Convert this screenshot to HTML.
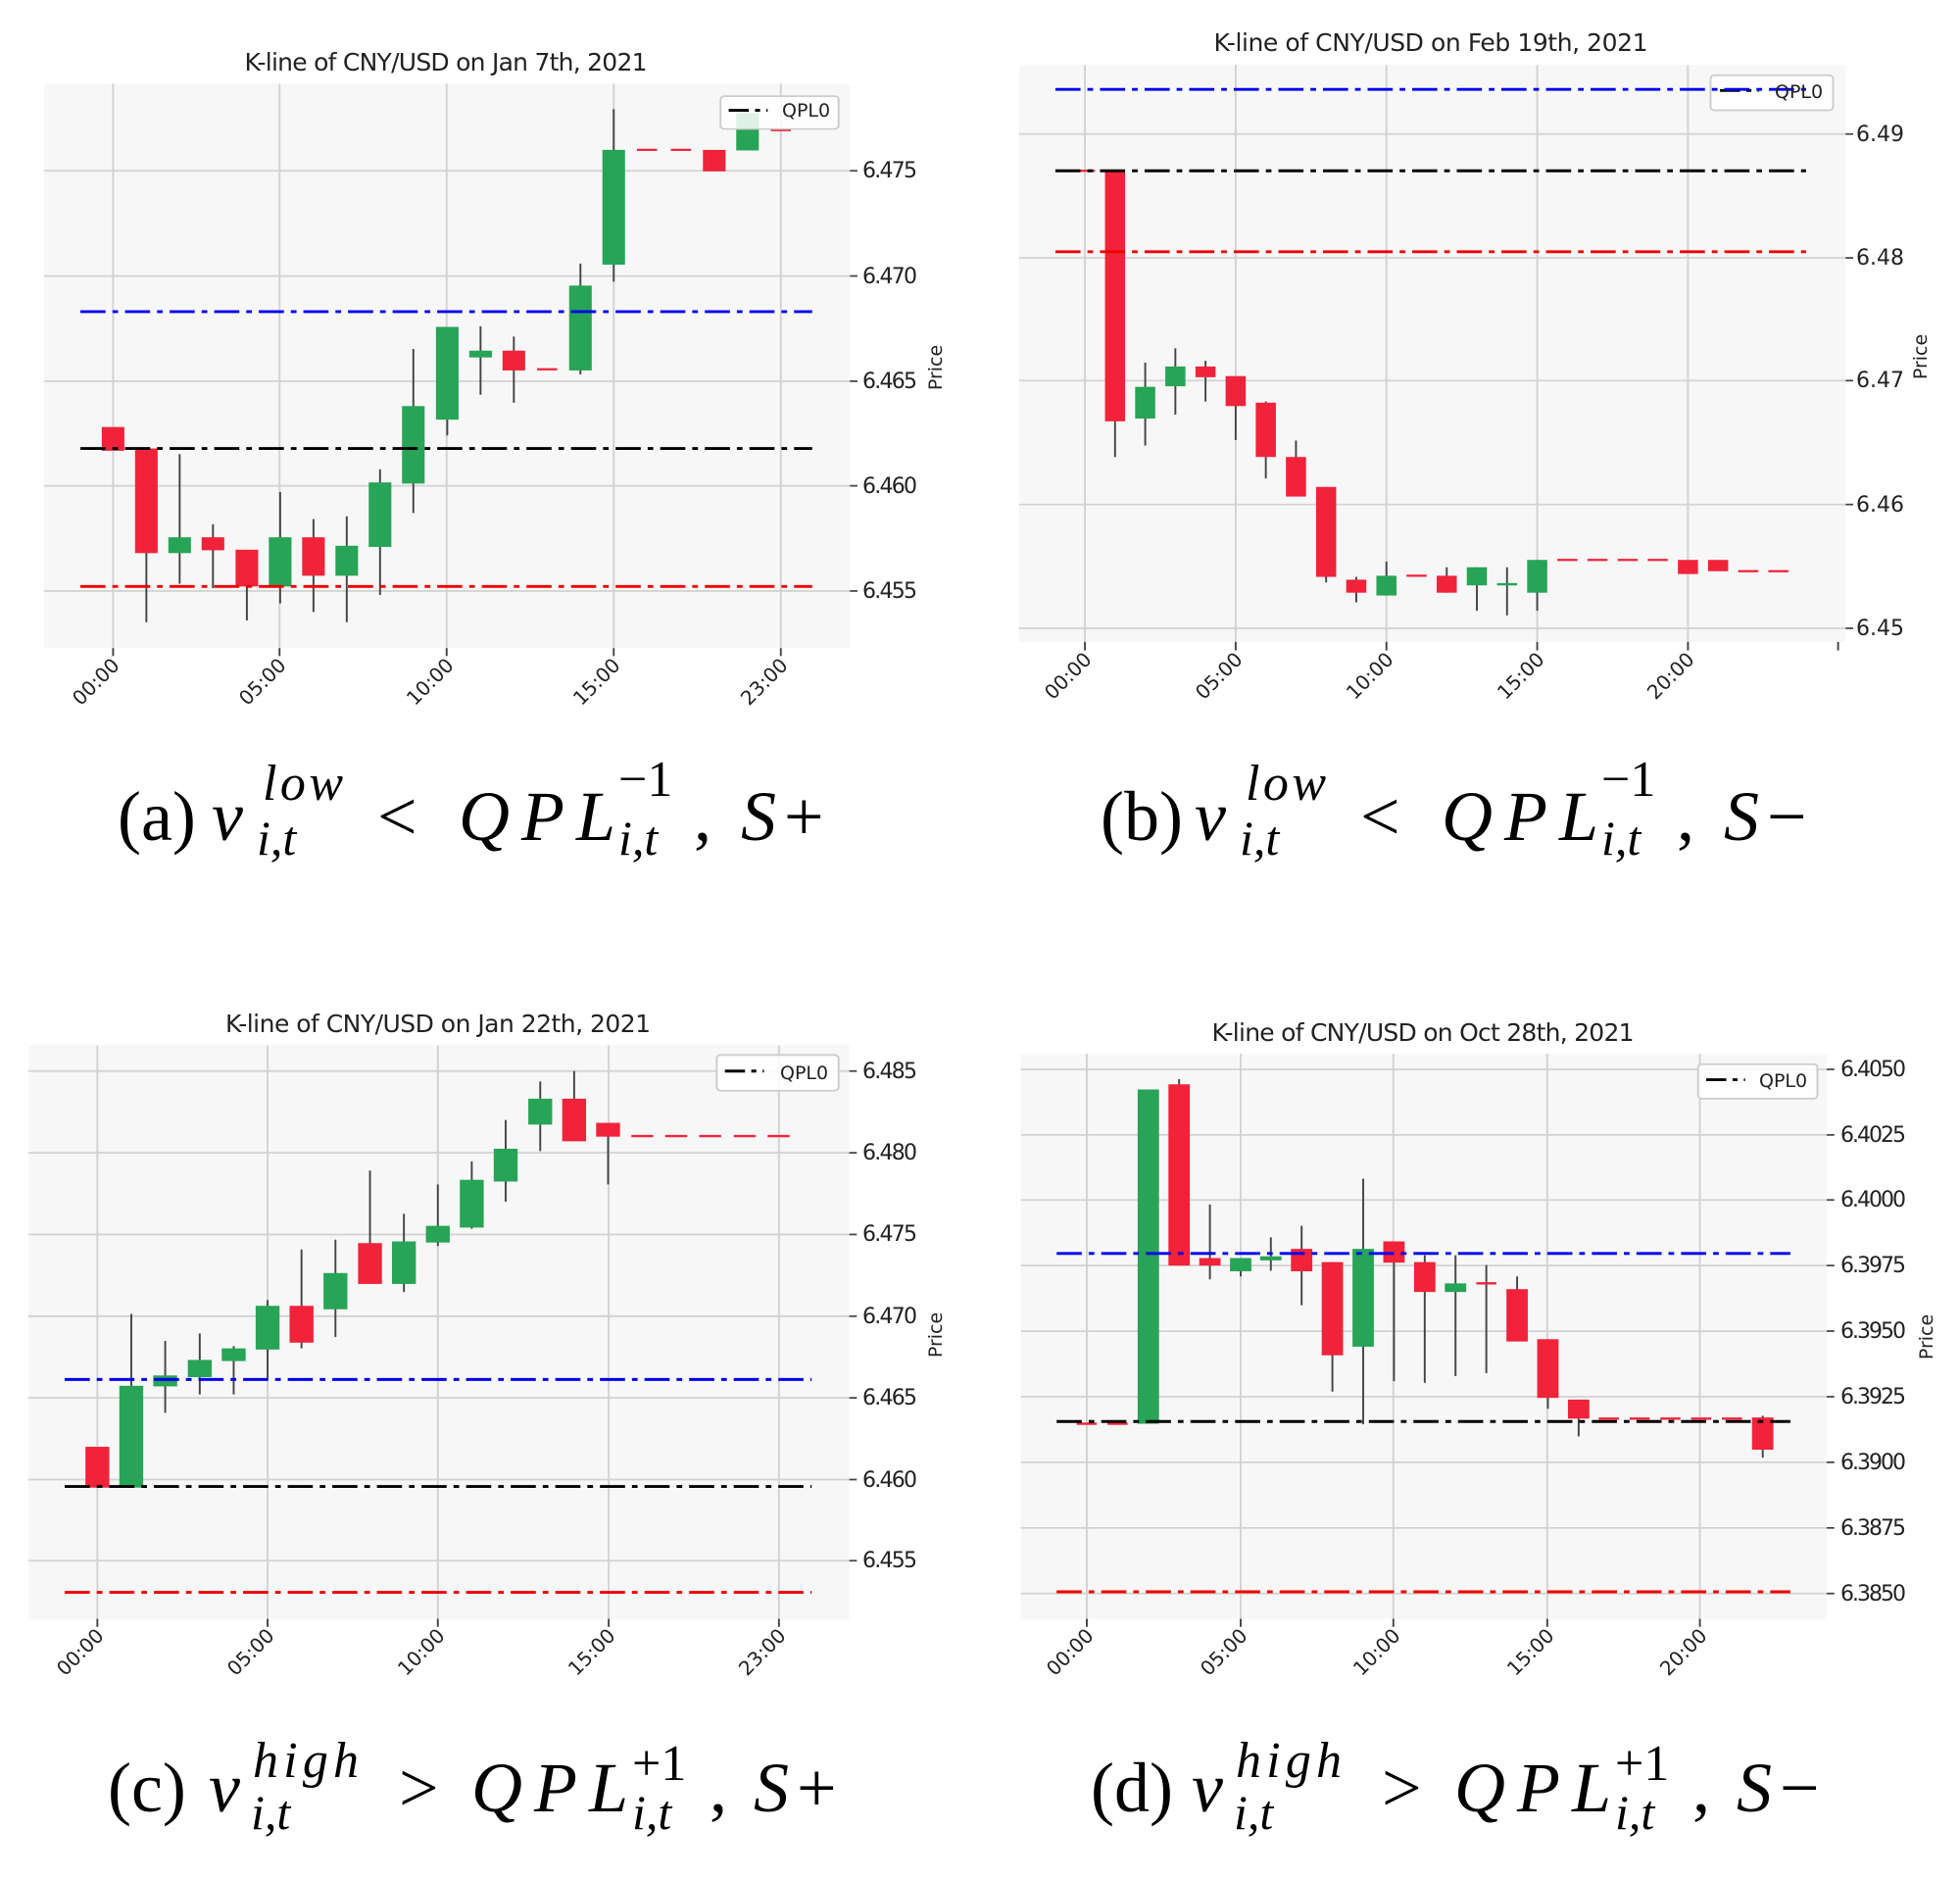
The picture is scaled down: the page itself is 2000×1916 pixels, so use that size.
<!DOCTYPE html>
<html><head><meta charset="utf-8"><style>html,body{margin:0;padding:0;background:#fff}svg{display:block}</style></head><body>
<svg xmlns="http://www.w3.org/2000/svg" width="2000" height="1916" viewBox="0 0 2000 1916">
<defs>
<style>
.bg{fill:#f7f7f7}
.g{stroke:#d2d2d2;stroke-width:3}
.tk{stroke:#444;stroke-width:3}
.w{stroke:#444;stroke-width:3}
.R{fill:#f0233a}
.G{fill:#27a456}
.rd{stroke:#f0233a;stroke-width:4}
.gd{stroke:#27a456;stroke-width:4}
.dd{stroke-width:5;stroke-dasharray:40 11 9 11;fill:none}
.lg{fill:#fff;fill-opacity:0.85;stroke:#ccc;stroke-width:3}
.t{font-family:"DejaVu Sans","Liberation Sans",sans-serif;fill:#222}
.c{font-family:"Liberation Serif",serif;fill:#000}
.i{font-style:italic}
</style>
</defs>

<!-- ============ PANEL A ============ -->
<g transform="translate(0,0) scale(0.641,0.577)">
<rect class="bg" x="70" y="148" width="1283" height="998"/>
<g class="g">
<line x1="70" x2="1353" y1="302" y2="302"/><line x1="70" x2="1353" y1="488" y2="488"/><line x1="70" x2="1353" y1="674" y2="674"/><line x1="70" x2="1353" y1="859" y2="859"/><line x1="70" x2="1353" y1="1045" y2="1045"/>
<line y1="148" y2="1146" x1="180" x2="180"/><line y1="148" y2="1146" x1="445" x2="445"/><line y1="148" y2="1146" x1="711" x2="711"/><line y1="148" y2="1146" x1="977" x2="977"/><line y1="148" y2="1146" x1="1243" x2="1243"/>
</g>
<g class="tk">
<line x1="1353" x2="1365" y1="302" y2="302"/><line x1="1353" x2="1365" y1="488" y2="488"/><line x1="1353" x2="1365" y1="674" y2="674"/><line x1="1353" x2="1365" y1="859" y2="859"/><line x1="1353" x2="1365" y1="1045" y2="1045"/>
<line y1="1146" y2="1160" x1="180" x2="180"/><line y1="1146" y2="1160" x1="445" x2="445"/><line y1="1146" y2="1160" x1="711" x2="711"/><line y1="1146" y2="1160" x1="977" x2="977"/><line y1="1146" y2="1160" x1="1243" x2="1243"/>
</g>
<g class="w">
<line x1="233" x2="233" y1="793" y2="1100"/><line x1="286" x2="286" y1="803" y2="1032"/><line x1="339" x2="339" y1="927" y2="1040"/><line x1="393" x2="393" y1="972" y2="1097"/><line x1="446" x2="446" y1="870" y2="1067"/><line x1="499" x2="499" y1="918" y2="1082"/><line x1="552" x2="552" y1="913" y2="1100"/><line x1="605" x2="605" y1="830" y2="1052"/><line x1="658" x2="658" y1="617" y2="907"/><line x1="712" x2="712" y1="578" y2="770"/><line x1="765" x2="765" y1="577" y2="698"/><line x1="818" x2="818" y1="595" y2="712"/><line x1="924" x2="924" y1="466" y2="662"/><line x1="977" x2="977" y1="193" y2="498"/>
</g>
<rect class="R" x="162" y="755" width="36" height="42"/>
<rect class="R" x="215" y="793" width="36" height="185"/>
<rect class="G" x="268" y="950" width="36" height="28"/>
<rect class="R" x="321" y="950" width="36" height="23"/>
<rect class="R" x="375" y="972" width="36" height="65"/>
<rect class="G" x="428" y="950" width="36" height="87"/>
<rect class="R" x="481" y="950" width="36" height="68"/>
<rect class="G" x="534" y="965" width="36" height="53"/>
<rect class="G" x="587" y="853" width="36" height="114"/>
<rect class="G" x="640" y="718" width="36" height="137"/>
<rect class="G" x="694" y="578" width="36" height="164"/>
<rect class="G" x="747" y="620" width="36" height="12"/>
<rect class="R" x="800" y="620" width="36" height="35"/>
<line class="rd" x1="855" x2="887" y1="653" y2="653"/>
<rect class="G" x="906" y="505" width="36" height="150"/>
<rect class="G" x="959" y="265" width="36" height="203"/>
<line class="rd" x1="1014" x2="1046" y1="265" y2="265"/>
<line class="rd" x1="1068" x2="1100" y1="265" y2="265"/>
<rect class="R" x="1119" y="265" width="36" height="38"/>
<rect class="G" x="1172" y="200" width="36" height="66"/>
<line class="rd" x1="1227" x2="1259" y1="230" y2="230"/>
<line class="dd" stroke="#0000ee" x1="128" x2="1293" y1="551" y2="551"/>
<line class="dd" stroke="#000" x1="128" x2="1293" y1="793" y2="793"/>
<line class="dd" stroke="#ee0000" x1="128" x2="1293" y1="1037" y2="1037"/>
<rect class="lg" x="1147" y="170" width="188" height="58" rx="6"/>
<line class="dd" stroke="#000" x1="1160" x2="1222" y1="195" y2="195" style="stroke-dasharray:32 10 8 10"/>
</g>
<text class="t" x="455" y="72" font-size="25" text-anchor="middle" textLength="411">K-line of CNY/USD on Jan 7th, 2021</text>
<text class="t" x="798" y="119" font-size="19">QPL0</text>
<g class="t" font-size="22">
<text x="880" y="181" textLength="56">6.475</text><text x="880" y="289" textLength="56">6.470</text><text x="880" y="396" textLength="56">6.465</text><text x="880" y="503" textLength="56">6.460</text><text x="880" y="610" textLength="56">6.455</text>
</g>
<text class="t" font-size="19" transform="translate(961,375) rotate(-90)" text-anchor="middle">Price</text>
<g class="t" font-size="20" text-anchor="end">
<text transform="translate(123,680) rotate(-45)">00:00</text><text transform="translate(293,680) rotate(-45)">05:00</text><text transform="translate(464,680) rotate(-45)">10:00</text><text transform="translate(634,680) rotate(-45)">15:00</text><text transform="translate(805,680) rotate(-45)">23:00</text>
</g>

<!-- ============ PANEL B ============ -->
<g transform="translate(1000,0) scale(0.641,0.577)">
<rect class="bg" x="62" y="115" width="1316" height="1020"/>
<g class="g">
<line x1="62" x2="1378" y1="237" y2="237"/><line x1="62" x2="1378" y1="456" y2="456"/><line x1="62" x2="1378" y1="673" y2="673"/><line x1="62" x2="1378" y1="892" y2="892"/><line x1="62" x2="1378" y1="1111" y2="1111"/>
<line y1="115" y2="1135" x1="167" x2="167"/><line y1="115" y2="1135" x1="407" x2="407"/><line y1="115" y2="1135" x1="647" x2="647"/><line y1="115" y2="1135" x1="887" x2="887"/><line y1="115" y2="1135" x1="1127" x2="1127"/>
</g>
<g class="tk">
<line x1="1378" x2="1390" y1="237" y2="237"/><line x1="1378" x2="1390" y1="456" y2="456"/><line x1="1378" x2="1390" y1="673" y2="673"/><line x1="1378" x2="1390" y1="892" y2="892"/><line x1="1378" x2="1390" y1="1111" y2="1111"/>
<line y1="1135" y2="1150" x1="167" x2="167"/><line y1="1135" y2="1150" x1="407" x2="407"/><line y1="1135" y2="1150" x1="647" x2="647"/><line y1="1135" y2="1150" x1="887" x2="887"/><line y1="1135" y2="1150" x1="1127" x2="1127"/><line y1="1135" y2="1150" x1="1366" x2="1366"/>
</g>
<g class="w">
<line x1="215" x2="215" y1="302" y2="808"/><line x1="263" x2="263" y1="641" y2="788"/><line x1="311" x2="311" y1="616" y2="733"/><line x1="359" x2="359" y1="638" y2="710"/><line x1="407" x2="407" y1="665" y2="778"/><line x1="455" x2="455" y1="710" y2="846"/><line x1="503" x2="503" y1="779" y2="878"/><line x1="551" x2="551" y1="861" y2="1030"/><line x1="599" x2="599" y1="1020" y2="1065"/><line x1="647" x2="647" y1="993" y2="1053"/><line x1="743" x2="743" y1="1003" y2="1048"/><line x1="791" x2="791" y1="1003" y2="1080"/><line x1="839" x2="839" y1="1003" y2="1088"/><line x1="887" x2="887" y1="990" y2="1080"/>
</g>
<line class="rd" x1="151" x2="183" y1="302" y2="302"/>
<rect class="R" x="199" y="302" width="32" height="443"/>
<rect class="G" x="247" y="684" width="32" height="56"/>
<rect class="G" x="295" y="648" width="32" height="35"/>
<rect class="R" x="343" y="648" width="32" height="19"/>
<rect class="R" x="391" y="665" width="32" height="53"/>
<rect class="R" x="439" y="712" width="32" height="96"/>
<rect class="R" x="487" y="808" width="32" height="70"/>
<rect class="R" x="535" y="861" width="32" height="159"/>
<rect class="R" x="583" y="1025" width="32" height="23"/>
<rect class="G" x="631" y="1018" width="32" height="35"/>
<line class="rd" x1="679" x2="711" y1="1018" y2="1018"/>
<rect class="R" x="727" y="1018" width="32" height="30"/>
<rect class="G" x="775" y="1003" width="32" height="32"/>
<line class="gd" x1="823" x2="855" y1="1033" y2="1033"/>
<rect class="G" x="871" y="990" width="32" height="58"/>
<line class="rd" x1="919" x2="951" y1="990" y2="990"/><line class="rd" x1="967" x2="999" y1="990" y2="990"/><line class="rd" x1="1015" x2="1047" y1="990" y2="990"/><line class="rd" x1="1063" x2="1095" y1="990" y2="990"/>
<rect class="R" x="1111" y="990" width="32" height="25"/>
<rect class="R" x="1159" y="990" width="32" height="20"/>
<line class="rd" x1="1207" x2="1239" y1="1010" y2="1010"/><line class="rd" x1="1255" x2="1287" y1="1010" y2="1010"/>
<line class="dd" stroke="#000" x1="120" x2="1315" y1="302" y2="302"/>
<line class="dd" stroke="#ee0000" x1="120" x2="1315" y1="445" y2="445"/>
<rect class="lg" x="1163" y="133" width="195" height="62" rx="6"/>
<line class="dd" stroke="#000" x1="1178" x2="1240" y1="160" y2="160" style="stroke-dasharray:32 10 8 10"/>
<line class="dd" stroke="#0000ee" x1="120" x2="1315" y1="158" y2="158"/>
</g>
<text class="t" x="1460" y="52" font-size="25" text-anchor="middle" textLength="443">K-line of CNY/USD on Feb 19th, 2021</text>
<text class="t" x="1811" y="100" font-size="19">QPL0</text>
<g class="t" font-size="22">
<text x="1894" y="144">6.49</text><text x="1894" y="270">6.48</text><text x="1894" y="395">6.47</text><text x="1894" y="522">6.46</text><text x="1894" y="648">6.45</text>
</g>
<text class="t" font-size="19" transform="translate(1966,364) rotate(-90)" text-anchor="middle">Price</text>
<g class="t" font-size="20" text-anchor="end">
<text transform="translate(1115,674) rotate(-45)">00:00</text><text transform="translate(1269,674) rotate(-45)">05:00</text><text transform="translate(1423,674) rotate(-45)">10:00</text><text transform="translate(1577,674) rotate(-45)">15:00</text><text transform="translate(1730,674) rotate(-45)">20:00</text>
</g>

<!-- ============ PANEL C ============ -->
<g transform="translate(0,1000) scale(0.641,0.587)">
<rect class="bg" x="45" y="113" width="1307" height="997"/>
<g class="g">
<line x1="45" x2="1352" y1="158" y2="158"/><line x1="45" x2="1352" y1="300" y2="300"/><line x1="45" x2="1352" y1="442" y2="442"/><line x1="45" x2="1352" y1="584" y2="584"/><line x1="45" x2="1352" y1="726" y2="726"/><line x1="45" x2="1352" y1="868" y2="868"/><line x1="45" x2="1352" y1="1009" y2="1009"/>
<line y1="113" y2="1110" x1="155" x2="155"/><line y1="113" y2="1110" x1="426" x2="426"/><line y1="113" y2="1110" x1="697" x2="697"/><line y1="113" y2="1110" x1="969" x2="969"/><line y1="113" y2="1110" x1="1240" x2="1240"/>
</g>
<g class="tk">
<line x1="1352" x2="1364" y1="158" y2="158"/><line x1="1352" x2="1364" y1="300" y2="300"/><line x1="1352" x2="1364" y1="442" y2="442"/><line x1="1352" x2="1364" y1="584" y2="584"/><line x1="1352" x2="1364" y1="726" y2="726"/><line x1="1352" x2="1364" y1="868" y2="868"/><line x1="1352" x2="1364" y1="1009" y2="1009"/>
<line y1="1110" y2="1124" x1="155" x2="155"/><line y1="1110" y2="1124" x1="426" x2="426"/><line y1="1110" y2="1124" x1="697" x2="697"/><line y1="1110" y2="1124" x1="969" x2="969"/><line y1="1110" y2="1124" x1="1240" x2="1240"/>
</g>
<g class="w">
<line x1="209" x2="209" y1="580" y2="882"/><line x1="263" x2="263" y1="627" y2="752"/><line x1="318" x2="318" y1="614" y2="720"/><line x1="372" x2="372" y1="636" y2="720"/><line x1="426" x2="426" y1="556" y2="692"/><line x1="480" x2="480" y1="468" y2="640"/><line x1="534" x2="534" y1="451" y2="620"/><line x1="589" x2="589" y1="331" y2="528"/><line x1="643" x2="643" y1="406" y2="542"/><line x1="697" x2="697" y1="355" y2="462"/><line x1="751" x2="751" y1="315" y2="432"/><line x1="805" x2="805" y1="243" y2="385"/><line x1="860" x2="860" y1="176" y2="297"/><line x1="914" x2="914" y1="158" y2="280"/><line x1="968" x2="968" y1="248" y2="355"/>
</g>
<rect class="R" x="136" y="811" width="38" height="71"/>
<rect class="G" x="190" y="705" width="38" height="177"/>
<rect class="G" x="244" y="687" width="38" height="19"/>
<rect class="G" x="299" y="660" width="38" height="30"/>
<rect class="G" x="353" y="640" width="38" height="22"/>
<rect class="G" x="407" y="566" width="38" height="76"/>
<rect class="R" x="461" y="566" width="38" height="64"/>
<rect class="G" x="515" y="509" width="38" height="63"/>
<rect class="R" x="570" y="457" width="38" height="71"/>
<rect class="G" x="624" y="454" width="38" height="74"/>
<rect class="G" x="678" y="427" width="38" height="29"/>
<rect class="G" x="732" y="347" width="38" height="83"/>
<rect class="G" x="786" y="293" width="38" height="57"/>
<rect class="G" x="841" y="206" width="38" height="45"/>
<rect class="R" x="895" y="206" width="38" height="74"/>
<rect class="R" x="949" y="248" width="38" height="24"/>
<line class="rd" x1="1005" x2="1040" y1="271" y2="271"/><line class="rd" x1="1059" x2="1094" y1="271" y2="271"/><line class="rd" x1="1113" x2="1148" y1="271" y2="271"/><line class="rd" x1="1168" x2="1203" y1="271" y2="271"/><line class="rd" x1="1222" x2="1257" y1="271" y2="271"/>
<line class="dd" stroke="#0000ee" x1="103" x2="1292" y1="694" y2="694"/>
<line class="dd" stroke="#000" x1="103" x2="1292" y1="880" y2="880"/>
<line class="dd" stroke="#ee0000" x1="103" x2="1292" y1="1064" y2="1064"/>
<rect class="lg" x="1141" y="130" width="194" height="62" rx="6"/>
<line class="dd" stroke="#000" x1="1154" x2="1216" y1="158" y2="158" style="stroke-dasharray:32 10 8 10"/>
</g>
<text class="t" x="447" y="1053" font-size="25" text-anchor="middle" textLength="434">K-line of CNY/USD on Jan 22th, 2021</text>
<text class="t" x="796" y="1101" font-size="19">QPL0</text>
<g class="t" font-size="22">
<text x="880" y="1100" textLength="56">6.485</text><text x="880" y="1183" textLength="56">6.480</text><text x="880" y="1266" textLength="56">6.475</text><text x="880" y="1350" textLength="56">6.470</text><text x="880" y="1433" textLength="56">6.465</text><text x="880" y="1517" textLength="56">6.460</text><text x="880" y="1599" textLength="56">6.455</text>
</g>
<text class="t" font-size="19" transform="translate(961,1362) rotate(-90)" text-anchor="middle">Price</text>
<g class="t" font-size="20" text-anchor="end">
<text transform="translate(107,1670) rotate(-45)">00:00</text><text transform="translate(281,1670) rotate(-45)">05:00</text><text transform="translate(455,1670) rotate(-45)">10:00</text><text transform="translate(629,1670) rotate(-45)">15:00</text><text transform="translate(803,1670) rotate(-45)">23:00</text>
</g>

<!-- ============ PANEL D ============ -->
<g transform="translate(1000,1000) scale(0.641,0.587)">
<rect class="bg" x="65" y="128" width="1283" height="982"/>
<g class="g">
<line x1="65" x2="1348" y1="155" y2="155"/><line x1="65" x2="1348" y1="269" y2="269"/><line x1="65" x2="1348" y1="382" y2="382"/><line x1="65" x2="1348" y1="496" y2="496"/><line x1="65" x2="1348" y1="610" y2="610"/><line x1="65" x2="1348" y1="724" y2="724"/><line x1="65" x2="1348" y1="838" y2="838"/><line x1="65" x2="1348" y1="952" y2="952"/><line x1="65" x2="1348" y1="1066" y2="1066"/>
<line y1="128" y2="1110" x1="170" x2="170"/><line y1="128" y2="1110" x1="415" x2="415"/><line y1="128" y2="1110" x1="658" x2="658"/><line y1="128" y2="1110" x1="903" x2="903"/><line y1="128" y2="1110" x1="1146" x2="1146"/>
</g>
<g class="tk">
<line x1="1348" x2="1360" y1="155" y2="155"/><line x1="1348" x2="1360" y1="269" y2="269"/><line x1="1348" x2="1360" y1="382" y2="382"/><line x1="1348" x2="1360" y1="496" y2="496"/><line x1="1348" x2="1360" y1="610" y2="610"/><line x1="1348" x2="1360" y1="724" y2="724"/><line x1="1348" x2="1360" y1="838" y2="838"/><line x1="1348" x2="1360" y1="952" y2="952"/><line x1="1348" x2="1360" y1="1066" y2="1066"/>
<line y1="1110" y2="1124" x1="170" x2="170"/><line y1="1110" y2="1124" x1="415" x2="415"/><line y1="1110" y2="1124" x1="658" x2="658"/><line y1="1110" y2="1124" x1="903" x2="903"/><line y1="1110" y2="1124" x1="1146" x2="1146"/>
</g>
<g class="w">
<line x1="317" x2="317" y1="172" y2="496"/><line x1="366" x2="366" y1="390" y2="520"/><line x1="415" x2="415" y1="483" y2="515"/><line x1="463" x2="463" y1="447" y2="505"/><line x1="512" x2="512" y1="427" y2="565"/><line x1="561" x2="561" y1="490" y2="715"/><line x1="610" x2="610" y1="345" y2="772"/><line x1="659" x2="659" y1="454" y2="697"/><line x1="708" x2="708" y1="478" y2="700"/><line x1="757" x2="757" y1="478" y2="688"/><line x1="806" x2="806" y1="495" y2="683"/><line x1="855" x2="855" y1="515" y2="628"/><line x1="904" x2="904" y1="624" y2="745"/><line x1="953" x2="953" y1="729" y2="793"/><line x1="1246" x2="1246" y1="757" y2="830"/>
</g>
<line class="rd" x1="154" x2="186" y1="771" y2="771"/><line class="rd" x1="203" x2="235" y1="771" y2="771"/>
<rect class="G" x="251" y="190" width="34" height="581"/>
<rect class="R" x="300" y="181" width="34" height="315"/>
<rect class="R" x="349" y="483" width="34" height="13"/>
<rect class="G" x="398" y="483" width="34" height="23"/>
<rect class="G" x="446" y="480" width="34" height="7"/>
<rect class="R" x="495" y="467" width="34" height="39"/>
<rect class="R" x="544" y="490" width="34" height="162"/>
<rect class="G" x="593" y="467" width="34" height="170"/>
<rect class="R" x="642" y="454" width="34" height="37"/>
<rect class="R" x="691" y="490" width="34" height="52"/>
<rect class="G" x="740" y="527" width="34" height="15"/>
<line class="rd" x1="790" x2="822" y1="527" y2="527"/>
<rect class="R" x="838" y="537" width="34" height="91"/>
<rect class="R" x="887" y="624" width="34" height="102"/>
<rect class="R" x="936" y="729" width="34" height="33"/>
<line class="rd" x1="985" x2="1017" y1="762" y2="762"/><line class="rd" x1="1034" x2="1066" y1="762" y2="762"/><line class="rd" x1="1083" x2="1115" y1="762" y2="762"/><line class="rd" x1="1132" x2="1164" y1="762" y2="762"/><line class="rd" x1="1181" x2="1213" y1="762" y2="762"/>
<rect class="R" x="1229" y="760" width="34" height="56"/>
<line class="dd" stroke="#0000ee" x1="122" x2="1290" y1="475" y2="475"/>
<line class="dd" stroke="#000" x1="122" x2="1290" y1="767" y2="767"/>
<line class="dd" stroke="#ee0000" x1="122" x2="1290" y1="1063" y2="1063"/>
<rect class="lg" x="1143" y="146" width="190" height="60" rx="6"/>
<line class="dd" stroke="#000" x1="1156" x2="1218" y1="173" y2="173" style="stroke-dasharray:32 10 8 10"/>
</g>
<text class="t" x="1452" y="1062" font-size="25" text-anchor="middle" textLength="431">K-line of CNY/USD on Oct 28th, 2021</text>
<text class="t" x="1795" y="1109" font-size="19">QPL0</text>
<g class="t" font-size="22">
<text x="1878" y="1098" textLength="67">6.4050</text><text x="1878" y="1165" textLength="67">6.4025</text><text x="1878" y="1231" textLength="67">6.4000</text><text x="1878" y="1298" textLength="67">6.3975</text><text x="1878" y="1365" textLength="67">6.3950</text><text x="1878" y="1432" textLength="67">6.3925</text><text x="1878" y="1499" textLength="67">6.3900</text><text x="1878" y="1566" textLength="67">6.3875</text><text x="1878" y="1633" textLength="67">6.3850</text>
</g>
<text class="t" font-size="19" transform="translate(1972,1364) rotate(-90)" text-anchor="middle">Price</text>
<g class="t" font-size="20" text-anchor="end">
<text transform="translate(1117,1670) rotate(-45)">00:00</text><text transform="translate(1274,1670) rotate(-45)">05:00</text><text transform="translate(1430,1670) rotate(-45)">10:00</text><text transform="translate(1587,1670) rotate(-45)">15:00</text><text transform="translate(1743,1670) rotate(-45)">20:00</text>
</g>

<!-- ============ CAPTIONS ============ -->
<g class="c">
<text x="120" y="857" font-size="72">(a)</text>
<text x="216" y="857" font-size="72" class="i">v</text>
<text x="268" y="816" font-size="52" class="i" textLength="82">low</text>
<text x="262" y="872" font-size="50" class="i">i,t</text>
<text x="385" y="857" font-size="72">&lt;</text>
<text x="468" y="857" font-size="72" class="i" textLength="160">QPL</text>
<text x="631" y="812" font-size="52">−1</text>
<text x="631" y="872" font-size="50" class="i">i,t</text>
<text x="708" y="857" font-size="72">,</text>
<text x="756" y="857" font-size="72" class="i">S</text><text x="800" y="857" font-size="72">+</text>

<text x="1123" y="857" font-size="72">(b)</text>
<text x="1219" y="857" font-size="72" class="i">v</text>
<text x="1271" y="816" font-size="52" class="i" textLength="82">low</text>
<text x="1265" y="872" font-size="50" class="i">i,t</text>
<text x="1388" y="857" font-size="72">&lt;</text>
<text x="1471" y="857" font-size="72" class="i" textLength="160">QPL</text>
<text x="1634" y="812" font-size="52">−1</text>
<text x="1634" y="872" font-size="50" class="i">i,t</text>
<text x="1711" y="857" font-size="72">,</text>
<text x="1759" y="857" font-size="72" class="i">S</text><text x="1803" y="857" font-size="72">−</text>

<text x="110" y="1848" font-size="72">(c)</text>
<text x="213" y="1848" font-size="72" class="i">v</text>
<text x="258" y="1813" font-size="52" class="i" textLength="108">high</text>
<text x="256" y="1866" font-size="50" class="i">i,t</text>
<text x="407" y="1848" font-size="72">&gt;</text>
<text x="481" y="1848" font-size="72" class="i" textLength="160">QPL</text>
<text x="645" y="1816" font-size="52">+1</text>
<text x="645" y="1866" font-size="50" class="i">i,t</text>
<text x="724" y="1848" font-size="72">,</text>
<text x="769" y="1848" font-size="72" class="i">S</text><text x="813" y="1848" font-size="72">+</text>

<text x="1113" y="1848" font-size="72">(d)</text>
<text x="1216" y="1848" font-size="72" class="i">v</text>
<text x="1261" y="1813" font-size="52" class="i" textLength="108">high</text>
<text x="1259" y="1866" font-size="50" class="i">i,t</text>
<text x="1410" y="1848" font-size="72">&gt;</text>
<text x="1484" y="1848" font-size="72" class="i" textLength="160">QPL</text>
<text x="1648" y="1816" font-size="52">+1</text>
<text x="1648" y="1866" font-size="50" class="i">i,t</text>
<text x="1727" y="1848" font-size="72">,</text>
<text x="1772" y="1848" font-size="72" class="i">S</text><text x="1816" y="1848" font-size="72">−</text>
</g>
</svg>
</body></html>
